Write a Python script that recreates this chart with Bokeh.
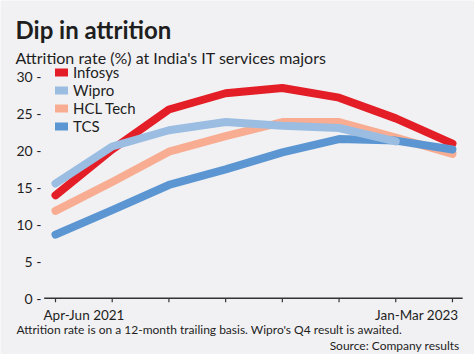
import math
from bokeh.plotting import figure
from bokeh.models import Label, Legend, LegendItem, Range1d
from bokeh.embed import file_html
from bokeh.resources import INLINE

nan = float("nan")
quarters = ["Apr-Jun 2021", "Jul-Sep 2021", "Oct-Dec 2021", "Jan-Mar 2022",
            "Apr-Jun 2022", "Jul-Sep 2022", "Oct-Dec 2022", "Jan-Mar 2023"]
infosys = [13.9, 20.1, 25.5, 27.7, 28.4, 27.1, 24.3, 20.9]
wipro = [15.5, 20.5, 22.7, 23.8, 23.3, 23.0, 21.2, nan]
hcl = [11.8, 15.7, 19.8, 21.9, 23.8, 23.8, 21.7, 19.5]
tcs = [8.6, 11.9, 15.3, 17.4, 19.7, 21.5, 21.3, 20.1]
yticks = [0, 5, 10, 15, 20, 25, 30]

title = "Dip in attrition"
subtitle = "Attrition rate (%) at India's IT services majors"
note = "Attrition rate is on a 12-month trailing basis. Wipro's Q4 result is awaited."
source = "Source: Company results"

FONT = "Lato"
BG = "#f1f1f3"
TXT = "#1e1e1e"
AX = "#333333"

W, H = 474, 354
xs = list(range(len(quarters)))

# pixel geometry of the plotting area (whole canvas is the frame)
X0PX, DXPX = 55.0, 56.71      # px of first quarter, px per quarter
Y0PX, DYPX = 297.7, 7.4       # px (from top) of value 0, px per unit
x_start = -X0PX / DXPX
x_end = (W - X0PX) / DXPX
y_start = -(H - Y0PX) / DYPX
y_end = Y0PX / DYPX

p = figure(width=W, height=H, output_backend="svg", toolbar_location=None,
           x_range=Range1d(x_start, x_end), y_range=Range1d(y_start, y_end),
           min_border=0, x_axis_type=None, y_axis_type=None)
p.background_fill_color = BG
p.border_fill_color = BG
p.outline_line_color = None
p.grid.visible = False

# x axis line and ticks
p.segment(x0=[xs[0] - 0.2], y0=[0], x1=[xs[-1] + 0.18], y1=[0],
          line_color=AX, line_width=1.5)
p.ray(x=xs, y=[0] * len(xs), length=4, length_units="screen",
      angle=-math.pi / 2, line_color=AX, line_width=1.2)

# y tick labels
p.text(x=[xs[0]] * len(yticks), y=yticks, text=[f"{t} -" for t in yticks],
       x_offset=-14, text_align="right", text_baseline="middle",
       text_font={"value": FONT}, text_font_size="14px", text_color=TXT)

# first / last quarter labels
p.text(x=[xs[0]], y=[0], text=[quarters[0]], x_offset=-12, y_offset=16.5,
       text_align="left", text_baseline="alphabetic",
       text_font={"value": FONT}, text_font_size="13.5px", text_color=TXT)
p.text(x=[xs[-1]], y=[0], text=[quarters[-1]], x_offset=6, y_offset=16.5,
       text_align="right", text_baseline="alphabetic",
       text_font={"value": FONT}, text_font_size="13.5px", text_color=TXT)

series = [("HCL Tech", hcl, "#f8ad92"), ("Infosys", infosys, "#e41e26"),
          ("TCS", tcs, "#5b96d2"), ("Wipro", wipro, "#9bbde2")]
rend = {}
for name, vals, col in series:
    rend[name] = p.line(xs, vals, line_color=col, line_width=8,
                        line_cap="round", line_join="round")

legend = Legend(items=[LegendItem(label=n, renderers=[rend[n]])
                       for n in ["Infosys", "Wipro", "HCL Tech", "TCS"]],
                location=(55, 219), orientation="vertical")
legend.background_fill_alpha = 0
legend.border_line_color = None
legend.label_text_font = FONT
legend.label_text_font_size = "15px"
legend.label_text_color = TXT
legend.glyph_width = 13
legend.glyph_height = 16
legend.label_height = 16
legend.spacing = -5
legend.padding = 0
legend.margin = 0
legend.label_standoff = 5
p.add_layout(legend, "center")

p.add_layout(Label(x=15, y=H - 28.5, x_units="screen", y_units="screen",
                   text=title, text_align="left", text_baseline="alphabetic",
                   text_font=FONT, text_font_size="24px", text_font_style="bold",
                   text_color=TXT))
p.add_layout(Label(x=15, y=H - 56.5, x_units="screen", y_units="screen",
                   text=subtitle, text_align="left", text_baseline="alphabetic",
                   text_font=FONT, text_font_size="16px", text_color=TXT))
p.add_layout(Label(x=16, y=H - 328.5, x_units="screen", y_units="screen",
                   text=note, text_align="left", text_baseline="alphabetic",
                   text_font=FONT, text_font_size="12px", text_color=TXT))
p.add_layout(Label(x=459, y=H - 344.5, x_units="screen", y_units="screen",
                   text=source, text_align="right", text_baseline="alphabetic",
                   text_font=FONT, text_font_size="12px", text_color=TXT))

open("out.html", "w").write(file_html(p, INLINE))
